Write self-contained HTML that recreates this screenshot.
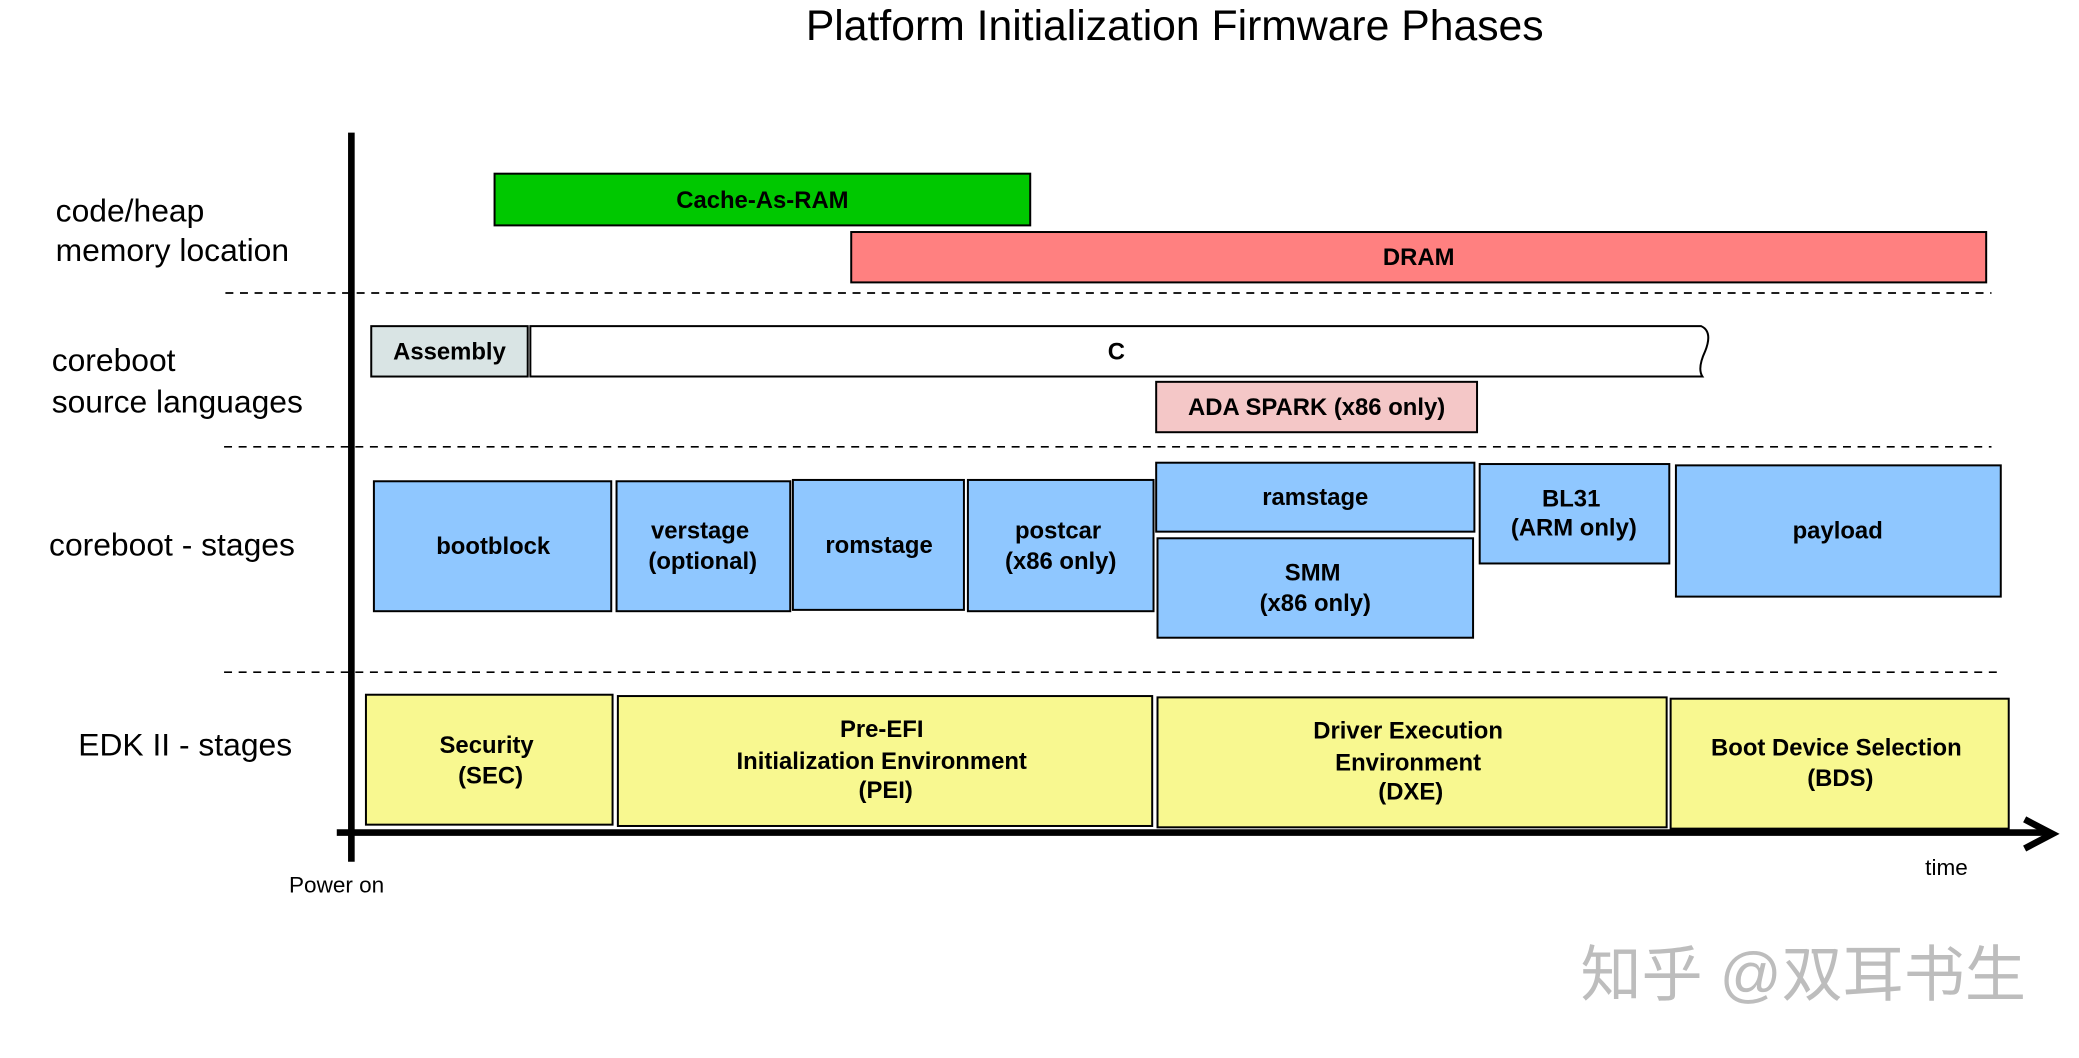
<!DOCTYPE html>
<html><head><meta charset="utf-8"><style>
html,body{margin:0;padding:0;background:#fff;width:2079px;height:1058px;overflow:hidden}
svg{display:block}
text{font-family:"Liberation Sans","Noto Sans CJK SC",sans-serif}
.b{font-weight:bold;font-size:18px;text-anchor:middle}
.l{font-size:24px}
</style></head><body>
<svg width="2079" height="1058" viewBox="0 0 1568 798" preserveAspectRatio="none" xmlns="http://www.w3.org/2000/svg">
<rect width="1568" height="798" fill="#fff"/>
<text x="886" y="30" font-size="32.2" text-anchor="middle">Platform Initialization Firmware Phases</text>

<text class="l" x="42" y="167">code/heap</text>
<text class="l" x="42" y="197">memory location</text>
<text class="l" x="39" y="280">coreboot</text>
<text class="l" x="39" y="311">source languages</text>
<text class="l" x="37" y="419">coreboot - stages</text>
<text class="l" x="59" y="570">EDK II - stages</text>

<g stroke="#000" stroke-width="1.3" stroke-dasharray="6,5" fill="none">
<line x1="170" y1="221" x2="1502" y2="221"/>
<line x1="169" y1="337" x2="1502" y2="337"/>
<line x1="169" y1="507" x2="1510" y2="507"/>
</g>

<g stroke="#000" stroke-width="1.5">
<rect x="373" y="131" width="404" height="39" fill="#00c800"/>
<rect x="642" y="175" width="856" height="38" fill="#ff8080"/>
<rect x="280" y="246" width="118" height="38" fill="#d9e4e4"/>
<path d="M400,246 L1283,246 Q1292,250 1286,265 Q1280,278 1284,284 L400,284 Z" fill="#fff"/>
<rect x="872" y="288" width="242" height="38" fill="#f4c7c7"/>

<g fill="#8fc7ff">
<rect x="282" y="363" width="179" height="98"/>
<rect x="465" y="363" width="131" height="98"/>
<rect x="598" y="362" width="129" height="98"/>
<rect x="730" y="362" width="140" height="99"/>
<rect x="872" y="349" width="240" height="52"/>
<rect x="873" y="406" width="238" height="75"/>
<rect x="1116" y="350" width="143" height="75"/>
<rect x="1264" y="351" width="245" height="99"/>
</g>
<g fill="#f8f890">
<rect x="276" y="524" width="186" height="98"/>
<rect x="466" y="525" width="403" height="98"/>
<rect x="873" y="526" width="384" height="98"/>
<rect x="1260" y="527" width="255" height="98"/>
</g>
</g>

<text class="b" x="575" y="157">Cache-As-RAM</text>
<text class="b" x="1070" y="200">DRAM</text>
<text class="b" x="339" y="271">Assembly</text>
<text class="b" x="842" y="271">C</text>
<text class="b" x="993" y="313">ADA SPARK (x86 only)</text>

<text class="b" x="372" y="418">bootblock</text>
<text class="b" x="528" y="406">verstage</text>
<text class="b" x="530" y="429">(optional)</text>
<text class="b" x="663" y="417">romstage</text>
<text class="b" x="798" y="406">postcar</text>
<text class="b" x="800" y="429">(x86 only)</text>
<text class="b" x="992" y="381">ramstage</text>
<text class="b" x="990" y="438">SMM</text>
<text class="b" x="992" y="461">(x86 only)</text>
<text class="b" x="1185" y="382">BL31</text>
<text class="b" x="1187" y="404">(ARM only)</text>
<text class="b" x="1386" y="406">payload</text>

<text class="b" x="367" y="568">Security</text>
<text class="b" x="370" y="591">(SEC)</text>
<text class="b" x="665" y="556">Pre-EFI</text>
<text class="b" x="665" y="580">Initialization Environment</text>
<text class="b" x="668" y="602">(PEI)</text>
<text class="b" x="1062" y="557">Driver Execution</text>
<text class="b" x="1062" y="581">Environment</text>
<text class="b" x="1064" y="603">(DXE)</text>
<text class="b" x="1385" y="570">Boot Device Selection</text>
<text class="b" x="1388" y="593">(BDS)</text>

<line x1="265" y1="100" x2="265" y2="650" stroke="#000" stroke-width="5"/>
<line x1="254" y1="628" x2="1545" y2="628" stroke="#000" stroke-width="5"/>
<path d="M1527,618 L1548,629 L1527,640" fill="none" stroke="#000" stroke-width="5"/>

<text x="218" y="673" font-size="17">Power on</text>
<text x="1452" y="660" font-size="17">time</text>

<text x="1192" y="751" font-size="46" fill="#bdbdbd" textLength="336" lengthAdjust="spacingAndGlyphs">知乎 @双耳书生</text>
</svg>
</body></html>
